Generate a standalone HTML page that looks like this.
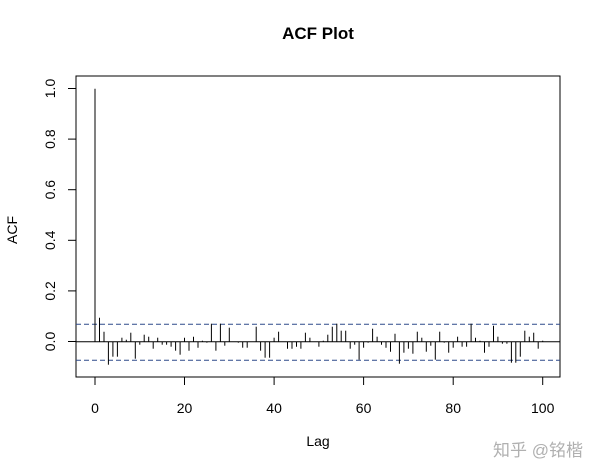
<!DOCTYPE html>
<html><head><meta charset="utf-8"><style>
html,body{margin:0;padding:0;background:#fff;}
svg{display:block;font-family:"Liberation Sans",Arial,sans-serif;}
</style></head><body>
<svg id="s" width="600" height="472" viewBox="0 0 600 472" xmlns="http://www.w3.org/2000/svg">
<rect width="600" height="472" fill="#fff"/>
<text x="318" y="39" text-anchor="middle" font-size="17" font-weight="bold" fill="#000">ACF Plot</text>
<rect x="76" y="76" width="484" height="301" fill="none" stroke="#000" stroke-width="1"/>
<g stroke="#000" stroke-width="1">
<line x1="95" y1="377" x2="542.7" y2="377"/>
<line x1="95" y1="377" x2="95" y2="385"/>
<line x1="184.5" y1="377" x2="184.5" y2="385"/>
<line x1="274.1" y1="377" x2="274.1" y2="385"/>
<line x1="363.6" y1="377" x2="363.6" y2="385"/>
<line x1="453.2" y1="377" x2="453.2" y2="385"/>
<line x1="542.7" y1="377" x2="542.7" y2="385"/>
<line x1="76" y1="341.5" x2="76" y2="88.5"/>
<line x1="68" y1="341.5" x2="76" y2="341.5"/>
<line x1="68" y1="290.9" x2="76" y2="290.9"/>
<line x1="68" y1="240.3" x2="76" y2="240.3"/>
<line x1="68" y1="189.7" x2="76" y2="189.7"/>
<line x1="68" y1="139.1" x2="76" y2="139.1"/>
<line x1="68" y1="88.5" x2="76" y2="88.5"/>
<line x1="76" y1="341.7" x2="560" y2="341.7"/>
</g>
<g font-size="14" fill="#000" text-anchor="middle">
<text x="95" y="413">0</text><text x="184.5" y="413">20</text><text x="274.1" y="413">40</text>
<text x="363.6" y="413">60</text><text x="453.2" y="413">80</text><text x="542.7" y="413">100</text>
<text x="318" y="446">Lag</text>
<g transform="translate(55,0)">
<text transform="translate(0,341.5) rotate(-90)">0.0</text>
<text transform="translate(0,290.9) rotate(-90)">0.2</text>
<text transform="translate(0,240.3) rotate(-90)">0.4</text>
<text transform="translate(0,189.7) rotate(-90)">0.6</text>
<text transform="translate(0,139.1) rotate(-90)">0.8</text>
<text transform="translate(0,88.5) rotate(-90)">1.0</text>
</g>
<text transform="translate(17,230) rotate(-90)">ACF</text>
</g>
<g stroke="#2f4a8a" stroke-width="1" stroke-dasharray="5,3">
<line x1="76" y1="324.3" x2="560" y2="324.3"/>
<line x1="76" y1="360.3" x2="560" y2="360.3"/>
</g>
<g id="bars" stroke="#000" stroke-width="1"></g>
<text x="538" y="456" text-anchor="middle" font-size="17" fill="#b0b0b0" font-family="'Liberation Sans','Noto Sans CJK SC',sans-serif">知乎 @铭楷</text>
</svg>
<script>
var v=[253,24,10,-23,-15,-15,4,2,9,-17,-3,7,5,-7,4,-3,-3,-5,-9,-13,4,-9,5,-6,1,-1,
18,-9,18,-4,14,0,-1,-6,-6,0,15,-9,-16,-16,4,10,0,-7,-7,-5,-7,9,4,0,-5,
1,7,15,18,11,11,-7,-3,-18,-6,-1,13,5,-3,-6,-10,8,-22,-11,-7,-12,10,4,-10,-4,-18,
10,-1,-11,-6,5,-5,-5,18,4,1,-11,-5,16,5,-2,-2,-21,-21,-15,11,5,9,-7,1];
var g=document.getElementById('bars'),h='';
for(var i=0;i<v.length;i++){var x=(95+4.477*i).toFixed(1);h+='<line x1="'+x+'" y1="341.7" x2="'+x+'" y2="'+(341.7-v[i]).toFixed(1)+'"/>';}
g.innerHTML=h;
</script>
</body></html>
